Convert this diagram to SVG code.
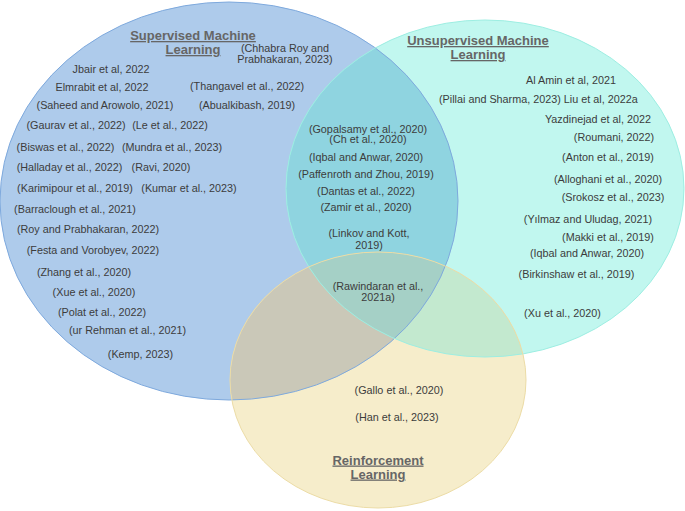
<svg xmlns="http://www.w3.org/2000/svg" width="685" height="511" viewBox="0 0 685 511">
<style>
.t{font-family:"Liberation Sans",Arial,sans-serif;font-size:10.8px;fill:#3c3c3c;text-anchor:middle}
.h{font-family:"Liberation Sans",Arial,sans-serif;font-size:13px;font-weight:bold;fill:#666;text-anchor:middle;text-decoration:underline}
.e{stroke-width:1}
</style>
<defs>
<ellipse id="eb" cx="229" cy="201" rx="229" ry="199"/>
<ellipse id="ec" cx="485" cy="188.5" rx="199" ry="168.5"/>
<ellipse id="ey" cx="378" cy="380" rx="148" ry="128"/>
<clipPath id="cb"><use href="#eb"/></clipPath>
<clipPath id="cc"><use href="#ec"/></clipPath>
<clipPath id="cy"><use href="#ey"/></clipPath>
</defs>
<rect width="685" height="511" fill="#fff"/>
<g id="sets">
<use href="#eb" fill="#aecbeb"/>
<use href="#ec" fill="#c1f7ef"/>
<use href="#ey" fill="#f6edcb"/>
<g clip-path="url(#cb)"><use href="#ec" fill="#8fd4e0"/><use href="#ey" fill="#cac8b8"/></g>
<g clip-path="url(#cc)"><use href="#ey" fill="#c3e9cf"/></g>
<g clip-path="url(#cb)"><g clip-path="url(#cc)"><use href="#ey" fill="#a5d0c6"/></g></g>
<use href="#eb" fill="none" stroke="#7ea9dd" class="e"/>
<use href="#ec" fill="none" stroke="#9deee2" class="e"/>
<use href="#ey" fill="none" stroke="#ecdca6" class="e"/>
</g>
<g id="connectors"/>
<g id="supervised">
<text class="h" x="193" y="40">Supervised Machine</text>
<text class="h" x="193" y="54">Learning</text>
<text class="t" x="285" y="51.5">(Chhabra Roy and</text>
<text class="t" x="285" y="63">Prabhakaran, 2023)</text>
<text class="t" x="111" y="72.5">Jbair et al, 2022</text>
<text class="t" x="102" y="90.5">Elmrabit et al, 2022</text>
<text class="t" x="247" y="89.5">(Thangavel et al., 2022)</text>
<text class="t" x="105" y="109">(Saheed and Arowolo, 2021)</text>
<text class="t" x="247" y="109">(Abualkibash, 2019)</text>
<text class="t" x="76" y="128.5">(Gaurav et al., 2022)</text>
<text class="t" x="170" y="128.5">(Le et al., 2022)</text>
<text class="t" x="65.5" y="150.5">(Biswas et al., 2022)</text>
<text class="t" x="172" y="150.5">(Mundra et al., 2023)</text>
<text class="t" x="69.5" y="170.5">(Halladay et al., 2022)</text>
<text class="t" x="161" y="170.5">(Ravi, 2020)</text>
<text class="t" x="75" y="192">(Karimipour et al., 2019)</text>
<text class="t" x="189" y="192">(Kumar et al., 2023)</text>
<text class="t" x="75" y="213">(Barraclough et al., 2021)</text>
<text class="t" x="88" y="233">(Roy and Prabhakaran, 2022)</text>
<text class="t" x="93" y="254">(Festa and Vorobyev, 2022)</text>
<text class="t" x="84" y="275.5">(Zhang et al., 2020)</text>
<text class="t" x="94" y="295.5">(Xue et al., 2020)</text>
<text class="t" x="102" y="316">(Polat et al., 2022)</text>
<text class="t" x="127.5" y="334">(ur Rehman et al., 2021)</text>
<text class="t" x="140.5" y="358">(Kemp, 2023)</text>
</g>
<g id="overlap">
<text class="t" x="368" y="132.5">(Gopalsamy et al., 2020)</text>
<text class="t" x="368" y="143">(Ch et al., 2020)</text>
<text class="t" x="366" y="161">(Iqbal and Anwar, 2020)</text>
<text class="t" x="366" y="178">(Paffenroth and Zhou, 2019)</text>
<text class="t" x="366" y="194.5">(Dantas et al., 2022)</text>
<text class="t" x="366" y="210.5">(Zamir et al., 2020)</text>
<text class="t" x="369" y="237">(Linkov and Kott,</text>
<text class="t" x="369" y="248.5">2019)</text>
<text class="t" x="378" y="290">(Rawindaran et al.,</text>
<text class="t" x="378" y="301">2021a)</text>
</g>
<g id="unsupervised">
<text class="h" x="478" y="45">Unsupervised Machine</text>
<text class="h" x="478" y="59">Learning</text>
<text class="t" x="571" y="84">Al Amin et al, 2021</text>
<text class="t" x="439" y="103" style="text-anchor:start">(Pillai and Sharma, 2023) Liu et al, 2022a</text>
<text class="t" x="598" y="122.5">Yazdinejad et al, 2022</text>
<text class="t" x="614" y="140.5">(Roumani, 2022)</text>
<text class="t" x="608" y="161">(Anton et al., 2019)</text>
<text class="t" x="608" y="183">(Alloghani et al., 2020)</text>
<text class="t" x="613" y="201">(Srokosz et al., 2023)</text>
<text class="t" x="588" y="222.5">(Yılmaz and Uludag, 2021)</text>
<text class="t" x="608" y="241">(Makki et al., 2019)</text>
<text class="t" x="587" y="257">(Iqbal and Anwar, 2020)</text>
<text class="t" x="576.5" y="277.5">(Birkinshaw et al., 2019)</text>
<text class="t" x="562.5" y="316.5">(Xu et al., 2020)</text>
</g>
<g id="reinforcement">
<text class="t" x="399" y="394">(Gallo et al., 2020)</text>
<text class="t" x="397" y="420.5">(Han et al., 2023)</text>
<text class="h" x="378" y="464.5">Reinforcement</text>
<text class="h" x="378" y="478.5">Learning</text>
</g>
</svg>
